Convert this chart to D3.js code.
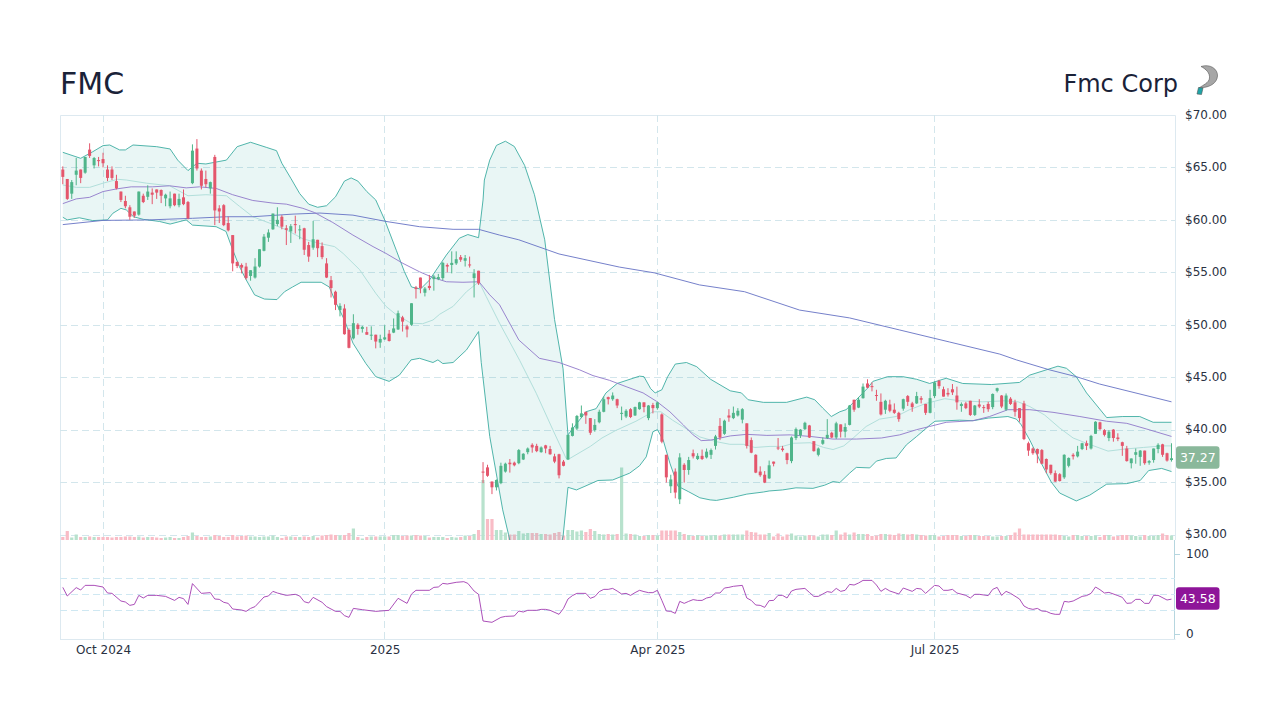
<!DOCTYPE html>
<html>
<head>
<meta charset="utf-8">
<title>FMC</title>
<script src="https://cdn.jsdelivr.net/npm/d3@7"></script>
<style>
  html, body { margin: 0; padding: 0; background: #fff; }
  svg { display: block; }
  text { font-family: "DejaVu Sans", sans-serif; }
</style>
</head>
<body>
<script>
// ohlc per trading day
const opens = [
  64.8,63.9,62.5,64.3,64.8,64.5,66.7,65.2,65.7,65.8,
  64.8,64.8,63.7,62.7,61.8,61.2,60.8,60.5,62.3,62.2,
  62.6,62.9,62.85,62.05,61.3,62.5,61.4,62.15,61.7,63.5,
  66.8,64.7,63.9,63,66,61.1,61.4,59.7,58.55,56.0,
  55.7,55.55,54.65,54.5,55.55,57.05,58.3,59.1,59.6,60.3,
  59.2,58.9,59.6,59.0,59.2,57.6,57.35,58.1,57.5,55.85,
  54.25,53.15,51.4,51.55,49.5,48.7,50,49.6,49.3,49,
  49.05,48.3,48.6,49.15,49.25,49.55,50.7,49.85,50,53.55,
  54.5,53.05,53.7,54.35,54.35,54.45,55.7,55.7,55.85,56.45,
  56.1,55.75,54.45,55.15,36.0,36.4,35.05,34.5,34.9,36,
  36.85,36.85,36.8,37.15,37.85,38.55,38.45,37.85,38.5,38.15,
  37.45,37.65,36.95,37.15,39.4,40.1,41.2,41.7,41.1,39.95,
  40.7,41.7,43.1,42.9,42.9,41.5,41.25,41.95,41.35,41.95,
  42.6,41.1,42.35,42.05,41.45,37.6,34.6,36,33.35,36.65,
  36.15,37.75,37.2,37.5,37.35,37.6,38.45,40.35,39.6,41.35,
  41.1,41.35,40.95,40.6,39,37.6,36,35.7,35.35,36.95,
  38.3,38.2,37.75,37,39.2,39.45,40.05,40.4,38.9,37.6,
  38.65,39.2,39.7,39.25,40.5,39.8,40.45,42.85,42.1,43,
  44.4,44.15,43.3,42.65,41.9,42.4,41.9,41.6,42,43.2,
  42.5,42.5,43,42.45,41.6,43.2,44.65,43.85,43.5,43.85,
  43.25,42.25,42.5,42.75,41.4,42.4,42.15,42.45,42.15,43.7,
  43.25,41.9,42.95,42.6,42.05,42.5,38.7,38.2,38.15,38.05,
  37.2,36.65,35.85,35.75,35.45,36.55,37.6,37.45,38.15,38.7,
  38.2,39.6,40.7,39.95,39.2,40,39.25,38.8,38.2,36.8,
  37.6,37.4,38,36.85,37.1,38.15,38.6,37.75,37.1
];
const highs = [
  65.1,63.9,63.8,65.9,64.8,66,67.3,66,66,66.4,
  65.2,65.1,64.3,62.7,62.3,61.4,60.8,62.7,62.5,63.3,
  63,62.9,62.9,62.5,62.7,62.5,62.5,62.9,61.8,67.2,
  67.7,64.9,64.7,63.65,66.2,61.4,61.5,60.3,58.55,56,
  55.85,55.9,55.2,56.35,57.2,58.65,59.1,60.6,61.2,60.45,
  59.5,59.6,60.4,59.5,59.25,57.9,59.9,58.1,57.85,56.35,
  54.65,53.25,52.05,51.95,49.65,51,50.15,49.9,49.8,49.85,
  49.05,49.05,49.95,49.5,50.6,51.35,50.85,50,52.05,53.7,
  54.5,53.6,54.75,54.75,54.85,56,55.85,57,57,56.65,
  56.65,56.5,55.3,55.15,36.9,36.65,35.05,35.25,36.85,36.85,
  37.2,36.95,38.15,37.75,38.3,38.7,38.65,38.4,38.55,38.45,
  37.7,37.7,37.1,39.5,40.6,41.4,42.3,41.7,41.1,41,
  41.9,43.15,43.15,43.55,42.95,42.2,41.95,42.05,42.2,42.65,
  42.6,42.35,42.55,42.65,41.55,37.6,35.7,36.3,37.75,36.8,
  37.4,38.1,37.75,38.1,38.2,38.2,39.5,41.1,40.95,41.95,
  42.2,42.05,42.05,40.6,39.25,37.65,36.5,36.05,37.05,36.95,
  39.2,38.45,37.8,39.35,40.2,40.05,40.75,40.45,38.9,38.3,
  39.25,41,39.8,40.75,40.5,40.6,42.35,42.85,43.1,44.4,
  44.8,44.5,43.8,43.45,42.85,42.85,42.5,41.7,42.95,43.3,
  42.65,43.6,43.2,42.45,43.8,44.6,44.75,44.1,43.95,44.35,
  44.1,42.6,42.65,42.75,42.35,42.9,42.35,42.65,43.45,44,
  43.3,43.45,43.1,42.85,42.05,42.75,38.85,38.3,38.2,38.15,
  37.25,36.65,36.1,35.85,37.65,37.35,37.75,38.45,38.75,38.95,
  39.5,40.8,40.75,40.05,39.95,40.05,39.65,38.85,38.45,37.25,
  38.2,38.05,38,37.1,38.2,38.7,38.65,37.8,38.7
];
const lows = [
  63.4,61.9,62,63.3,63.5,64.4,65.9,64.9,65.1,65,
  63.7,63.8,62.9,61.7,61.1,60,60.2,60.4,61.6,61.9,
  61.5,62,61.6,61.3,61.1,61.3,61.2,61.4,60.05,63.4,
  64.7,62.9,63.1,62.5,59.5,59.7,59.4,58.9,55.1,55.4,
  54.9,54.3,54.2,54.4,55.45,57,57.9,59.05,59.4,59.1,
  57.6,57.8,58.7,58.15,56.65,56,57.15,56.45,56.25,54.45,
  52.6,51.4,50.8,49.05,47.75,48.6,49.05,49.25,49.05,48.55,
  47.75,47.8,48.55,48.4,49.2,49.5,49.35,48.8,49.9,52.5,
  53,52.7,53.3,53.25,54.25,54.25,55,54.9,55.7,56,
  55.55,55.45,52.6,53.8,34.9,35.5,33.85,34.2,34.8,35.9,
  35.9,36.5,36.7,37.1,37.65,37.8,37.85,37.8,37.75,37.6,
  36.8,35.35,36.5,37.1,39.35,39.95,41.1,40.55,39.5,39.8,
  40.6,41.65,42.4,42.75,42.05,40.9,41.1,41.1,41.3,41.9,
  41.65,40.9,41.55,41.9,38.7,34.95,33.95,33.45,32.9,34.95,
  35.7,37.25,37.1,37.1,37.25,37.2,38.1,39,39.5,40.75,
  41,41.25,40.6,38.2,37.75,35.85,35.5,34.9,35.3,36.5,
  38.05,37.9,36.7,36.8,39,39.2,39.95,39.2,37.9,37.45,
  38.55,39.1,39.2,39.1,39.25,39.25,40.4,41.7,42.05,42.95,
  43.95,43.65,42.75,41.35,41.5,41.65,41.5,40.75,41.8,42.25,
  41.7,42.45,42.5,41.4,41.55,43,43.9,43.15,43.15,43.3,
  41.9,41.7,41.95,41.3,41.3,42.05,41.6,41.7,41.95,43.55,
  42.05,41.8,42.35,41.25,40.75,39,37.5,37.6,36.8,36.7,
  35.85,35.7,35,35.05,35.3,36.4,37.15,37.35,38.05,38.05,
  38.1,39.6,39.95,39.35,38.9,38.85,38.9,37.5,36.95,36.3,
  36.75,36.55,36.65,36.65,36.85,37.75,37.4,36.95,36.95
];
const closes = [
  64.1,62.0,63.6,64.7,64.0,66.0,66.1,65.9,65.6,65.4,
  64.0,64,63,61.9,61.3,60.3,60.4,62.7,61.7,62.7,
  62.4,62.6,62.3,62.4,62.05,61.4,62,61.5,60.15,66.6,
  64.9,63.25,63.4,63.6,60.9,60.8,59.5,59,55.85,55.6,
  55.45,54.45,55.2,55.55,57.2,58.4,58.8,60.6,60,59.35,
  59.05,59.4,59.5,59.1,57.15,56.5,58.15,57.3,56.45,54.5,
  53.5,51.9,51.8,49.1,47.8,50.15,49.6,49.8,49.05,49.05,
  48.4,48.65,48.8,48.45,49.65,51.1,50.3,49.55,52.05,53.4,
  53.5,53.45,53.5,54.6,54.55,55.9,55.55,55.9,56.25,56.2,
  56.35,55.7,54.9,53.95,35.9,35.6,34.5,35.2,36.55,36.75,
  36.7,36.6,38.05,37.7,38.2,38.3,37.95,38.3,38.2,37.65,
  36.95,35.65,36.55,39.5,40.2,41.3,41.55,41.35,39.7,40.45,
  41.7,42.9,42.9,43.25,42.3,41.6,41.8,41.2,42.15,42.6,
  42.15,42.3,42.05,42.6,38.85,35.45,35.25,34,37.35,36.15,
  37.1,37.45,37.5,37.2,37.9,38.05,39.35,39.25,40.85,41.15,
  41.6,41.8,41.95,38.45,37.8,35.9,35.65,34.95,36.6,36.75,
  38.2,38.05,37.1,39.25,40.05,40,40.65,39.25,37.95,38.2,
  39,39.5,39.25,40.6,39.8,40.25,42.3,41.9,42.85,44.1,
  44,44.05,43.25,41.45,42.75,41.8,41.6,41,42.9,42.65,
  42.15,43.2,42.85,41.6,43,44.5,44.15,43.15,43.35,43.55,
  42.6,42.45,42.05,41.4,42.3,42.2,42.05,41.95,43.4,43.95,
  42.2,43.25,42.45,41.7,41.1,39.1,38,37.75,37.7,36.75,
  36.2,35.85,35.05,35.1,37.6,37.3,37.45,37.9,38.7,38.45,
  39.4,40.75,40.05,39.5,39.8,39.2,39.1,38.45,37,37.25,
  37.85,38,36.8,37,38.2,38.55,37.6,37.05,37.27
];
// volume in millions (estimated)
const volumes = [
  .6,1.8,.5,1.1,.6,.6,.7,.6,.6,.6,
  .6,.5,.6,.6,.7,.7,.6,.7,.5,.6,
  .6,.5,.4,.5,.6,.4,.4,.6,.8,1.5,
  .8,.6,.6,.7,1,.8,.6,.6,1,.7,
  .8,.9,.7,.7,.6,.7,.7,.9,.6,.4,
  .7,.7,.6,.6,.7,.6,.8,.5,.9,1,
  1.1,1,.9,1,1.4,2.3,.6,.3,.6,.7,
  .7,.7,.7,.7,1,1,.8,.9,.9,1,
  .9,.8,.5,.6,.6,.6,.4,.6,.5,.6,
  .9,.8,1.2,2,12,4.2,4.2,2,2,1.5,
  1.1,1.1,1.8,1.3,1.4,1.4,1.4,1.2,1.2,1.1,
  1.4,1.6,.9,2,2,1.7,1.9,1.6,2.2,1.8,
  1.2,1.1,1.2,1.1,1.2,14.5,1.3,1.2,1.1,.8,
  .8,1,1,.9,1.9,1.9,1.9,1.9,1.6,1.2,
  1,.8,1,.8,.9,.9,1,.9,1.1,1.1,
  1.1,1.1,1.1,1.9,1.6,1.5,1.1,1.1,1.4,.7,
  1.3,.7,1.1,1.3,.9,.7,.9,1,.9,.7,
  1.1,1.1,1,1.9,1.1,1.5,1.1,1.5,1.2,1.2,
  1.2,.8,.9,1.2,1.2,1.1,1,1.3,1.2,1.1,
  1.2,1.1,1,.9,1,1,.7,.8,1,1,
  1,.8,.8,1,1,.8,.8,.8,.7,.7,
  .8,.8,1,1.5,2.3,1.1,1.1,1.1,1.1,1.1,
  1.1,1.1,1.1,1,.8,.7,1,1,.8,.8,
  .8,.9,.6,1,1,.7,.8,1,1,.9,
  .8,.7,1,.8,.8,1,1.3,1,.9
];
// days whose volume bar has the other colour than the candle
const volumeFlip = [94, 136, 175];

// indicator lines: [day index, value]
const bbUpper = [[0,66.44],[4,65.87],[6.7,66.5],[9,67.08],[10.5,67.14],[12.7,66.67],[14,66.67],[15.7,67.14],[21,66.98],[24,66.76],[25.7,65.7],[28,64.7],[30,65.4],[32,65.33],[36.6,65.7],[39,66.98],[42,67.4],[45.5,66.92],[47.8,66.6],[49,65.4],[51,63.97],[53,62.5],[55,61.5],[57,61.2],[59,61.35],[61,62.2],[63,63.7],[64.5,64],[66,63.7],[68,62.7],[70,61.9],[72,60],[74.6,57.1],[76.4,55.07],[78,53.6],[80,53.4],[82,54.25],[85.8,56.65],[88.7,58.25],[90.6,58.6],[93,58.3],[94,61.9],[94.3,63.8],[95.5,65.7],[97,67.1],[99,67.5],[101,67],[103.3,65.2],[105.5,62.4],[107.8,58.1],[110,50.5],[111.9,45.8],[113,39.5],[117,41.7],[119.3,42],[121.5,43.5],[124,44.4],[129,45.1],[130,45.05],[131.5,43.9],[132.5,43.5],[134,43.8],[135.3,45.05],[137,46.25],[139.5,46.4],[141.8,46],[144.9,44.8],[149.3,43.7],[151.8,43.5],[153.3,42.85],[156.7,42.6],[161.9,42.6],[166.4,43.1],[168.2,42.85],[170,42.05],[171.9,41.25],[173.8,41.7],[175.2,41.9],[177.5,42.85],[180,43.95],[181.2,44.6],[184.5,45.05],[187.9,45.05],[191,44.8],[193.9,44.4],[197.6,44.9],[201.3,44.4],[207.7,44.3],[214,44.5],[216.3,45.2],[222.6,46.05],[224.5,45.85],[226.7,45.05],[229,43.5],[233.5,41.15],[237.1,41.25],[240.9,41.25],[243.9,40.7],[248,40.7]];
const bbLower = [[0,60.25],[1,60],[3.7,60.2],[6.7,59.93],[10,60],[11.2,60.63],[13,61.1],[14.2,60.95],[15.8,60.3],[18,60.05],[21.6,59.85],[24,59.6],[27.6,60],[29,59.5],[34.3,59.35],[36.5,58.9],[38,57.15],[39.5,55.55],[41,54.3],[42.9,52.85],[45.1,52.45],[47.9,52.4],[49.6,53.15],[51.4,53.6],[53.3,54.05],[57.8,54.05],[59.6,53.6],[61,52.2],[63,50.45],[64.9,48.25],[67.8,46.3],[70,45.05],[73,44.6],[75.3,45.2],[77.9,46.65],[79.8,46.8],[82.8,46.4],[83.9,46.65],[85,46.3],[87.3,46.4],[90.3,47.6],[93,49.35],[93.6,46.4],[95.5,39.35],[98.4,32.35],[99.7,30],[101,27.5],[105,24],[108,24.5],[110,26.5],[111.9,29.8],[113,34.5],[114.9,34.25],[116.8,34.6],[119.7,35.15],[123,35.2],[126.8,35.85],[129,36.55],[130.5,37.4],[132,39.8],[133,40],[134.3,39],[135.8,36.8],[137.6,34.6],[139.9,34.1],[142.5,33.5],[144.8,33.3],[146.2,33.25],[150,33.55],[153,33.85],[156.7,34.05],[158,34.15],[161,34.25],[164,34.45],[167.8,34.4],[170.4,34.7],[172.3,35.05],[173.8,34.95],[176,35.85],[177.5,36.4],[180.5,36.35],[182,37],[184.2,37.25],[186.4,37.3],[188.7,38.55],[191,39.35],[194,40.45],[195.1,40.8],[200.6,40.9],[203.6,40.85],[207,41.1],[211.4,41.25],[213.3,41],[214.4,40.45],[216.3,39],[218.5,37.1],[221.1,35],[223,33.95],[226.7,33.2],[229.7,33.75],[233.5,34.8],[238,34.85],[241,35.15],[242.9,36.1],[245.8,36.3],[248,36]];
const bbMiddle = [[0,63.33],[3,63.1],[6,63.1],[9,63.5],[12.3,63.87],[14.2,63.8],[18.7,63.5],[23.9,63.25],[28,62.3],[32,62.4],[36.6,62.3],[39.5,61.3],[42.5,60.3],[46.2,59.7],[50,59.05],[53.7,58.2],[57.5,57.75],[60.8,57.45],[62.7,56.8],[66.4,55.25],[70,53],[72.3,51.75],[74.6,50.95],[77.9,50.15],[80.5,50.1],[82.8,50.45],[84.3,51],[87.3,51.75],[90.3,53.15],[93.1,54.1],[94.7,52.7],[97.7,50.15],[102.2,46.6],[105.9,43.47],[109.6,40],[112.6,37.25],[113.2,37.2],[118,38.4],[120.6,39.2],[123.6,39.9],[128.2,40.8],[132,41.7],[133.8,41.7],[136.4,40.9],[139.4,40.1],[142.5,39.3],[146.2,38.85],[149.2,38.6],[152.2,38.6],[154.8,38.3],[158.2,38.4],[161,38.4],[163.5,38.7],[167.2,38.75],[170.2,38.3],[172.3,38.1],[174.7,38.45],[176.8,39.2],[179.7,40.3],[182.7,41],[186.4,41.25],[189.4,41.9],[193.1,42.5],[197.3,42.95],[200.6,42.75],[205.8,42.65],[210.7,42.75],[213.7,42.65],[216.3,42.2],[219.6,41.4],[223,40.15],[226,39.2],[229,38.7],[233.8,37.95],[237.6,38.15],[241.7,38.3],[246.1,38.45],[248,38.45]];
const sma50 = [[0,61.55],[3,62],[6,62.15],[9,62.7],[12,62.95],[15.3,63.15],[20,63.15],[23.9,63.25],[27.6,63.05],[30.6,63.15],[34.3,63],[38,62.4],[42.5,61.85],[47,61.6],[50,61.5],[53.7,61.1],[56.3,60.7],[60.4,59.75],[64.9,58.55],[69.4,57.45],[72.3,56.8],[76.1,55.85],[79.8,55.05],[82.8,54.5],[85.8,54.1],[89.5,54.05],[93.1,54.1],[95.5,52.85],[97.7,51.9],[102,48.55],[106.6,46.8],[111,46.4],[115.6,45.7],[118.6,45.15],[122.3,44.7],[126,44.1],[129.8,43.5],[132.8,42.7],[135.8,41.7],[138.8,40.45],[141,39.5],[142.8,38.95],[144.9,39],[149.3,39.4],[153,39.55],[157.5,39.45],[162.7,39.5],[167.2,39.35],[172.3,39.1],[177.5,39.1],[183.1,39.2],[187.2,39.5],[191,40],[193.9,40.3],[197.6,40.7],[203.6,40.85],[207.3,41.25],[211.4,41.9],[216.3,41.9],[221.5,41.65],[227.5,41.25],[233.5,40.8],[238,40.6],[242.5,40.05],[248,39.35]];
const sma200 = [[0,59.55],[9,59.95],[19.4,60],[29,60.15],[36.6,60.3],[42.5,60.3],[51.5,60.55],[57.5,60.65],[64.9,60.45],[72.3,59.85],[79.8,59.35],[87.3,59.1],[93,59.1],[97.7,58.55],[102,58.1],[111,56.75],[124.5,55.5],[132.3,54.95],[142.4,53.8],[152.5,53.15],[164.8,51.4],[176,50.65],[187.2,49.5],[198.4,48.35],[209.6,47.2],[213.3,46.65],[220.7,45.7],[226.7,45.05],[231.9,44.35],[248,42.65]];
const rsi = [[0,58.3],[1,47.5],[3,58],[4,55],[5,60.8],[7,60.8],[9,58.75],[10,51.25],[11,50.8],[13,41.25],[14,40],[15,35.8],[16,37],[17,48.3],[18,45],[19,48.3],[21,48.3],[23,47],[25,42],[26,45.8],[27,44.2],[28,37],[29,63],[31,50.8],[33,51.7],[34,43.75],[35,43.3],[36,39.6],[37,38.3],[38,31.25],[40,30],[41,28.3],[42,32],[43,34.2],[45,46.25],[46,47.5],[47,53.3],[48,51.25],[50,48.3],[52,49.6],[53,47.5],[54,40.4],[55,38.75],[56,45.8],[58,39.6],[59,34.2],[61,28.3],[62,28.3],[63,23],[64,20.8],[65,32],[67,30.4],[70,28.3],[73,29.6],[75,44.6],[77,38.3],[78,50],[79,54.6],[82,54.6],[83,58.3],[84,58.75],[85,63.3],[86,62.5],[88,64.6],[89.7,65.4],[90.6,63.3],[92,53.75],[93,49.6],[94,16.25],[96,14.6],[98,20.8],[99,22],[101,22.5],[102,28.75],[103,27.5],[104,29.6],[106,29.6],[107,30.8],[108,30.8],[109,29.6],[111,24.6],[112,32],[113,43.75],[114,48],[115,50.8],[117,50.8],[118,44.6],[119,46.7],[120,53],[121,55.8],[122,55.8],[123,57],[124,53.75],[125,50],[126,50.8],[127,48.3],[128,51.7],[129,54.6],[130,53],[131,51.7],[132,51.7],[133,54.6],[134,42],[135,28.75],[136,28.3],[137,25.8],[138,40.8],[139,38.3],[140,40.8],[141,43],[142,42],[143,42],[144,45],[145,46.25],[146,51.25],[147,51.25],[148,57.5],[149,58.3],[150,59.6],[152,60.8],[153,45],[154,42],[155,36.25],[156,35.8],[157,33.3],[158,41.7],[159,42],[160,48.3],[161,48.3],[162,45],[163,53.75],[164,55.8],[166,57],[167,52],[168,47],[169,47],[170,50],[171,53],[172,52],[173,57],[174,53.3],[175,54.6],[176,62],[177,61.25],[178,63.75],[179,67],[181,67],[182,61.25],[183,53.3],[184,57],[185,53.75],[187,50],[188,57.5],[190,53.3],[191,57],[192,56.25],[193,50.8],[195,60.8],[196,60],[197,54.6],[198,54.6],[199,55.8],[200,51.25],[202,48.3],[203,45],[204,49.6],[205,49.6],[207,48],[208,55.8],[209,58.3],[210,48.3],[211,53.3],[212,50.8],[214,43.75],[215,35],[216,32],[217,30.8],[218,32],[219,28.75],[220,28.3],[221,25.8],[222,24.6],[223,24.6],[224,40.8],[225,40],[226,41.25],[228,47],[229,48],[230,50.8],[231,58.75],[232,55.4],[233,51.25],[234,52],[236,48],[237,45.8],[238,38.3],[239,38.75],[240,43.3],[241,43.3],[242,38.3],[243,38.3],[244,48.3],[245,48.3],[247,42.5],[248,43.58]];

const priceTicks = [30, 35, 40, 45, 50, 55, 60, 65, 70];
const rsiTicks = [0, 100];
const rsiLevels = [30, 50, 70];
const dateTicks = [9, 72, 133, 195];
const dateLabels = ["Oct 2024", "2025", "Apr 2025", "Jul 2025"];

const width = 1280, height = 720;
const left = 60, right = 1175, top_ = 115, mainBottom = 540, bottom = 639;
const upColor = "#4fb58a", downColor = "#e4566c";
const gridColor = "#d3e6ec", textColor = "#2a3142";

const svg = d3.select("body").append("svg")
    .attr("width", width)
    .attr("height", height);

const x = d3.scaleLinear().domain([0, opens.length - 1]).range([62.8, 1171.5]);
const y = d3.scaleLinear().domain([30, 70]).range([534.5, 115]);
const yVol = d3.scaleLinear().domain([0, 14.6]).range([540, 467]);
const yRsi = d3.scaleLinear().domain([0, 100]).range([634, 554]);

svg.append("defs").append("clipPath").attr("id", "main-clip")
  .append("rect")
    .attr("x", left).attr("y", top_)
    .attr("width", right - left).attr("height", mainBottom - top_);

// frame
svg.append("path")
    .attr("d", `M${left + 0.5},${bottom + 0.5}V${top_ + 0.5}H${right + 0.5}V${mainBottom}`)
    .attr("fill", "none").attr("stroke", "#dde9f0");
svg.append("path")
    .attr("d", `M${left},${bottom + 0.5}H${right + 0.5}`)
    .attr("fill", "none").attr("stroke", "#dde9f0");
svg.append("line")
    .attr("x1", right - 0.5).attr("x2", right - 0.5)
    .attr("y1", mainBottom).attr("y2", bottom)
    .attr("stroke", "#b6d6df");

// grid
svg.append("g").selectAll("line").data(priceTicks.slice(0, -1)).enter().append("line")
    .attr("x1", left).attr("x2", right)
    .attr("y1", d => Math.round(y(d)) + 0.5).attr("y2", d => Math.round(y(d)) + 0.5)
    .attr("stroke", gridColor).attr("stroke-dasharray", "7 4");
svg.append("g").selectAll("line").data(rsiLevels).enter().append("line")
    .attr("x1", left).attr("x2", right)
    .attr("y1", d => yRsi(d) + 0.5).attr("y2", d => yRsi(d) + 0.5)
    .attr("stroke", "#cfe8f2").attr("stroke-dasharray", "7 4");
svg.append("g").selectAll("line").data(dateTicks).enter().append("line")
    .attr("x1", d => Math.floor(x(d)) + 0.5).attr("x2", d => Math.floor(x(d)) + 0.5)
    .attr("y1", top_).attr("y2", bottom)
    .attr("stroke", gridColor).attr("stroke-dasharray", "7 4");

const main = svg.append("g").attr("clip-path", "url(#main-clip)");

// volume
main.append("g").selectAll("rect").data(volumes).enter().append("rect")
    .attr("x", (d, i) => x(i) - 1.6)
    .attr("width", 3.2)
    .attr("y", d => yVol(d))
    .attr("height", d => yVol(0) - yVol(d))
    .attr("fill", (d, i) => {
        let up = closes[i] >= opens[i];
        if (volumeFlip.includes(i)) up = !up;
        return up ? "#b8e2cd" : "#f9bcc6";
    });

const line = d3.line().x(d => x(d[0])).y(d => y(d[1]));

// bollinger band
main.append("path")
    .attr("d", line(bbUpper.concat(bbLower.slice().reverse())) + "Z")
    .attr("fill", "#26a69a").attr("fill-opacity", 0.1);
const overlays = [
    { data: bbMiddle, color: "#b2dfdb", w: 1 },
    { data: bbUpper, color: "#3dada1", w: 0.9 },
    { data: bbLower, color: "#3dada1", w: 0.9 },
    { data: sma200, color: "#6572c4", w: 0.9 },
    { data: sma50, color: "#9078c9", w: 0.9 }
];
main.append("g").selectAll("path").data(overlays).enter().append("path")
    .attr("d", d => line(d.data))
    .attr("fill", "none")
    .attr("stroke", d => d.color)
    .attr("stroke-width", d => d.w);

// candles
const candles = main.append("g").selectAll("g").data(opens).enter().append("g")
    .attr("fill", (d, i) => closes[i] >= d ? upColor : downColor)
    .attr("stroke", (d, i) => closes[i] >= d ? upColor : downColor);
candles.append("line")
    .attr("x1", (d, i) => x(i)).attr("x2", (d, i) => x(i))
    .attr("y1", (d, i) => y(highs[i])).attr("y2", (d, i) => y(lows[i]))
    .attr("stroke-width", 1);
candles.append("rect")
    .attr("x", (d, i) => x(i) - 1.5)
    .attr("width", 3)
    .attr("y", (d, i) => y(Math.max(d, closes[i])))
    .attr("height", (d, i) => Math.max(1, Math.abs(y(d) - y(closes[i]))))
    .attr("stroke", "none");

// rsi pane
svg.append("path")
    .attr("d", d3.line().x(d => x(d[0])).y(d => yRsi(d[1]))(rsi))
    .attr("fill", "none")
    .attr("stroke", "#a23bb0")
    .attr("stroke-width", 0.9);

// axes
const priceAxis = d3.axisRight(y).tickValues(priceTicks)
    .tickFormat(d => "$" + d.toFixed(2)).tickSize(0).tickPadding(10);
const rsiAxis = d3.axisRight(yRsi).tickValues(rsiTicks).tickSize(5).tickPadding(6);
const dateAxis = d3.axisBottom(x).tickValues(dateTicks)
    .tickFormat((d, i) => dateLabels[i]).tickSize(0).tickPadding(6);

[
    svg.append("g").attr("transform", `translate(${right},-0.5)`).call(priceAxis),
    svg.append("g").attr("transform", `translate(${right},0)`).call(rsiAxis),
    svg.append("g").attr("transform", `translate(0,${bottom})`).call(dateAxis)
].forEach(g => {
    g.select(".domain").remove();
    g.selectAll("text").attr("fill", textColor).style("font-size", "12px")
        .style("font-family", '"DejaVu Sans", sans-serif');
    g.selectAll(".tick line").attr("stroke", "#b6d6df");
});

// last value labels
function valueLabel(yPos, value, color) {
    svg.append("rect")
        .attr("x", 1176).attr("y", yPos - 11)
        .attr("width", 43.5).attr("height", 22.5).attr("rx", 3)
        .attr("fill", color);
    svg.append("text")
        .attr("x", 1197.8).attr("y", yPos + 0.5)
        .attr("text-anchor", "middle").attr("dominant-baseline", "central")
        .attr("fill", "#fff").style("font-size", "12.5px")
        .text(value.toFixed(2));
}
valueLabel(y(closes[closes.length - 1]) - 1, closes[closes.length - 1], "#8ab89b");
valueLabel(yRsi(rsi[rsi.length - 1][1]) - 1, rsi[rsi.length - 1][1], "#8e1599");

// header
svg.append("text").attr("x", 60).attr("y", 94)
    .attr("fill", "#1a2238").style("font-size", "30px").text("FMC");
svg.append("text").attr("x", 1178).attr("y", 92)
    .attr("text-anchor", "end")
    .attr("fill", "#1a2238").style("font-size", "24px").text("Fmc Corp");

// sickle logo
const logo = svg.append("g").attr("stroke", "#555").attr("stroke-width", 0.6);
logo.append("path")
    .attr("d", "M1201,66.5C1210,63.5 1218,69 1217.5,76C1217,83 1210,87 1203,87.5L1199,88C1203,85 1209,83 1209.5,78C1210,73 1206,69 1201,66.5Z")
    .attr("fill", "#a6a6a6");
logo.append("path")
    .attr("d", "M1198.5,87.5L1203,88L1201.5,94.5L1197,94Z")
    .attr("fill", "#1fa5a8");
</script>
</body>
</html>
